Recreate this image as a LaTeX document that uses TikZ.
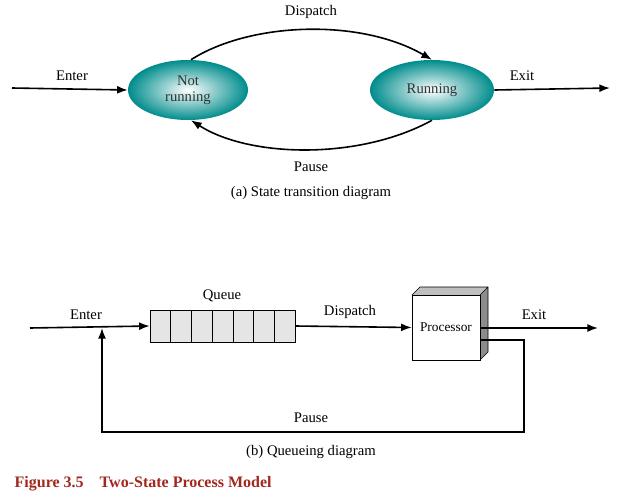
\documentclass[tikz,border=0pt]{standalone}
\usepackage{fontspec}
\setmainfont{Liberation Serif}
\usetikzlibrary{shapes.geometric,arrows.meta}
\definecolor{teal1}{RGB}{0,140,140}
\definecolor{capred}{RGB}{160,40,30}
\begin{document}
\begin{tikzpicture}[x=0.75pt,y=-0.75pt,
  st/.style={ellipse,minimum width=90pt,minimum height=45pt,inner sep=0pt,align=center,inner color=white,outer color=teal1,font=\fontsize{11}{12}\selectfont,text=black!80},
  arr/.style={line width=1.2pt,-{Latex[length=8pt,width=6pt]}},
  lab/.style={font=\fontsize{11}{12}\selectfont}]
\useasboundingbox (0,0) rectangle (633,493);
\node[st] (nr) at (188,90) {Not\\running};
\node[st,minimum width=93pt] (ru) at (432,90) {Running};
\coordinate (e1) at (12,88);
\coordinate (x1) at (610,88);
\draw[arr] (e1) -- (nr.west);
\node[lab] at (72,76) {Enter};
\draw[arr] (ru.east) -- (x1);
\node[lab] at (522,76) {Exit};
\draw[arr] (nr.north) ++(3,0) .. controls (250,22) and (360,18) .. (ru.north);
\node[lab] at (311,12) {Dispatch};
\draw[arr] (ru.south) .. controls (360,160) and (250,158) .. ([xshift=2.25pt]nr.south);
\node[lab] at (311,167) {Pause};
\node[lab] at (311,193) {(a) State transition diagram};
% queue
\node[draw,fill=black!10,minimum width=145*0.75pt,minimum height=32*0.75pt,inner sep=0pt] (q) at (222.5,326) {};
\foreach \i in {1,...,6} \draw (150+\i*145/7,310) -- (150+\i*145/7,342);
\node[lab] at (222,296) {Queue};
% processor
\fill[black!45] (480,295) -- (488,287) -- (488,352) -- (480,360) -- cycle;
\fill[black!25] (412,295) -- (420,287) -- (488,287) -- (480,295) -- cycle;
\draw (412,295) -- (420,287) -- (488,287) -- (488,352) -- (480,360) (480,295) -- (488,287);
\node[draw,fill=white,minimum width=68*0.75pt,minimum height=65*0.75pt,inner sep=0pt,font=\fontsize{10}{12}\selectfont] (p) at (446,327.5) {Processor};
\coordinate (e2) at (30,328);
\coordinate (x2) at (598,328);
\draw[arr] (e2) -- (q.west);
\node[lab] at (86,315) {Enter};
\draw[arr] (q.east) -- (p.west);
\node[lab] at (350,312) {Dispatch};
\draw[arr] (p.east |- 0,328) -- (x2);
\node[lab] at (534,315) {Exit};
\coordinate (t) at (102,328);
\draw[arr] (480,340) -- (524,340) -- (524,432) -- (102,432) -- (t);
\node[lab] at (311,418) {Pause};
\node[lab] at (311,452) {(b) Queueing diagram};
\node[anchor=west,text=capred,font=\bfseries\fontsize{12}{14}\selectfont] at (10,484) {Figure 3.5\quad Two-State Process Model};
\end{tikzpicture}
\end{document}
